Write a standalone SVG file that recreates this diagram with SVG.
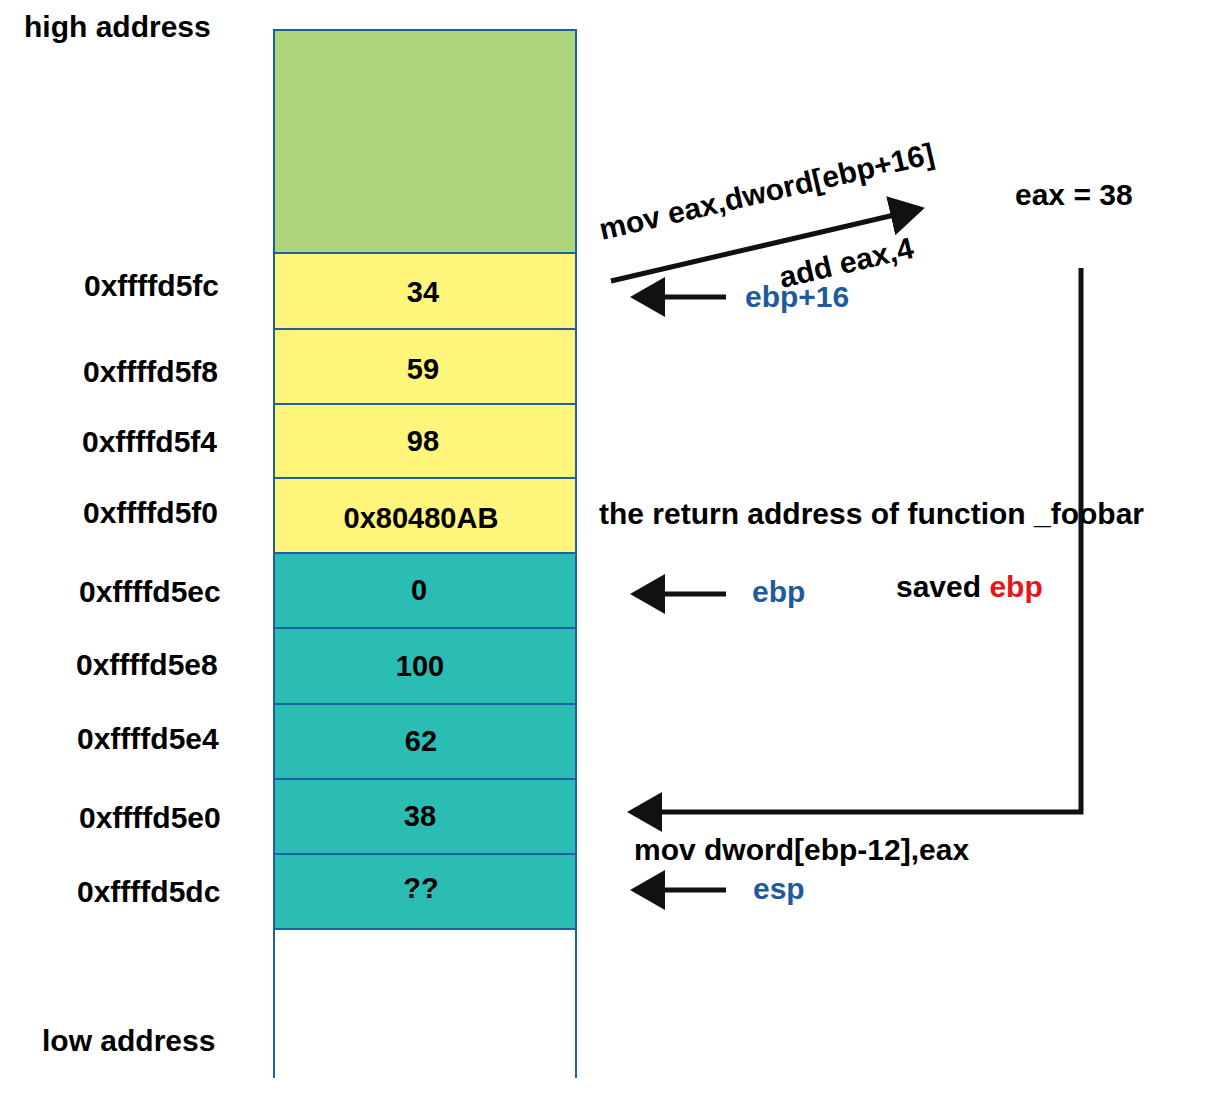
<svg xmlns="http://www.w3.org/2000/svg" width="1218" height="1098" viewBox="0 0 1218 1098">
<defs>
<style>
text{font-family:"Liberation Sans",Arial,sans-serif;font-weight:bold;font-size:30px;fill:#000}
.addr{font-size:30px}
.cell{stroke:#1f5fa8;stroke-width:2}
.c{text-anchor:middle;font-size:29px}
.blue{fill:#1f5b9a}
.red{fill:#e8141c}
.ln{stroke:#111;stroke-width:5;fill:none}
</style>
<marker id="ah" markerWidth="8" markerHeight="8" refX="6" refY="4" orient="auto" markerUnits="strokeWidth"><path d="M0,0 L7,4 L0,8 Z" fill="#111"/></marker>
</defs>
<rect width="1218" height="1098" fill="#fff"/>
<g id="stack">
<rect class="cell" x="274" y="30" width="302" height="223" fill="#add47a"/>
<rect class="cell" x="274" y="253" width="302" height="76" fill="#fff57a"/>
<rect class="cell" x="274" y="329" width="302" height="75" fill="#fff57a"/>
<rect class="cell" x="274" y="404" width="302" height="74" fill="#fff57a"/>
<rect class="cell" x="274" y="478" width="302" height="75" fill="#fff57a"/>
<rect class="cell" x="274" y="553" width="302" height="75" fill="#2bbdb4"/>
<rect class="cell" x="274" y="628" width="302" height="76" fill="#2bbdb4"/>
<rect class="cell" x="274" y="704" width="302" height="75" fill="#2bbdb4"/>
<rect class="cell" x="274" y="779" width="302" height="75" fill="#2bbdb4"/>
<rect class="cell" x="274" y="854" width="302" height="75" fill="#2bbdb4"/>
<line class="cell" x1="274" y1="929" x2="274" y2="1078"/>
<line class="cell" x1="576" y1="929" x2="576" y2="1078"/>
<text class="c" x="423" y="302">34</text>
<text class="c" x="423" y="379">59</text>
<text class="c" x="423" y="451">98</text>
<text class="c" x="421" y="528">0x80480AB</text>
<text class="c" x="419" y="600">0</text>
<text class="c" x="420" y="676">100</text>
<text class="c" x="421" y="751">62</text>
<text class="c" x="420" y="826">38</text>
<text class="c" x="421" y="898">??</text>
</g>
<g id="labels">
<text x="24" y="37">high address</text>
<text x="42" y="1051">low address</text>
<text x="84" y="296">0xffffd5fc</text>
<text x="83" y="382">0xffffd5f8</text>
<text x="82" y="452">0xffffd5f4</text>
<text x="83" y="523">0xffffd5f0</text>
<text x="79" y="602">0xffffd5ec</text>
<text x="76" y="675">0xffffd5e8</text>
<text x="77" y="749">0xffffd5e4</text>
<text x="79" y="828">0xffffd5e0</text>
<text x="77" y="902">0xffffd5dc</text>
<text x="599" y="524">the return address of function _foobar</text>
<text x="896" y="597">saved <tspan class="red">ebp</tspan></text>
<text x="1015" y="205">eax = 38</text>
<text class="blue" x="745" y="307">ebp+16</text>
<text class="blue" x="752" y="602">ebp</text>
<text class="blue" x="753" y="899">esp</text>
<text x="634" y="860">mov dword[ebp-12],eax</text>
<text transform="translate(602,240) rotate(-13)">mov eax,dword[ebp+16]</text>
<text transform="translate(782,288) rotate(-13)">add eax,4</text>
</g>
<g id="connectors">
<line class="ln" x1="611" y1="281" x2="920" y2="209" marker-end="url(#ah)"/>
<line class="ln" x1="726" y1="297" x2="635" y2="297" marker-end="url(#ah)"/>
<line class="ln" x1="726" y1="594" x2="635" y2="594" marker-end="url(#ah)"/>
<line class="ln" x1="726" y1="890" x2="635" y2="890" marker-end="url(#ah)"/>
<polyline class="ln" points="1081,268 1081,812 632,812" marker-end="url(#ah)"/>
</g>
</svg>
